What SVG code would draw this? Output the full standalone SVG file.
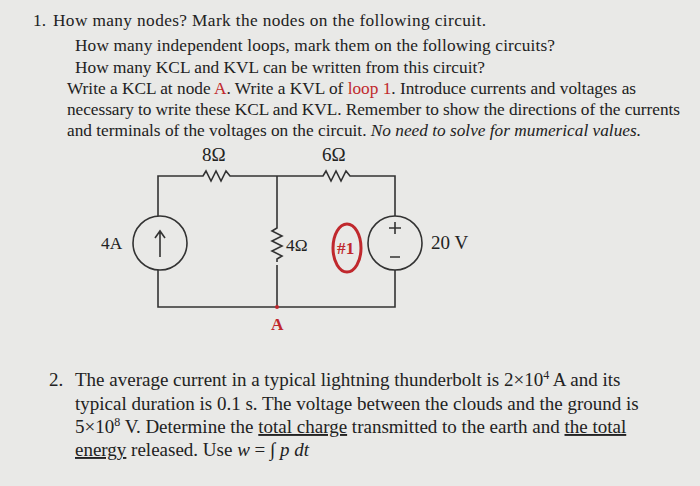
<svg xmlns="http://www.w3.org/2000/svg" width="700" height="486" viewBox="0 0 700 486">
<style>
text{font-family:"Liberation Serif",serif;font-size:17.3px;fill:#222}
.w{fill:none;stroke:#333;stroke-width:1.6}
.r{fill:#c0282d}
.L{font-size:19px}
</style>
<rect width="700" height="486" fill="#e9e9e7"/>
<text x="33" y="26">1.</text>
<text x="53" y="26" textLength="433">How many nodes? Mark the nodes on the following circuit.</text>
<text x="75" y="51" textLength="480">How many independent loops, mark them on the following circuits?</text>
<text x="75" y="73" textLength="410">How many KCL and KVL can be written from this circuit?</text>
<text x="67" y="94">Write a KCL at node <tspan class="r">A</tspan>. Write a KVL of <tspan class="r">loop 1</tspan>. Introduce currents and voltages as</text>
<text x="67" y="115" textLength="613">necessary to write these KCL and KVL. Remember to show the directions of the currents</text>
<text x="67" y="136">and terminals of the voltages on the circuit. <tspan font-style="italic">No need to solve for mumerical values.</tspan></text>
<g id="connectors">
<path class="w" d="M158,216 V176 H200 M233,176 H320 M353,176 H395 V216 M277,176 V225 M277,265 V307 M158,270 V307 H395 V270"/>
</g>
<g id="r8"><path class="w" d="M200,176 l3,0 3,-5 5,10 5,-10 5,10 5,-10 4,5 3,0"/><text x="202" y="161" class="L">8Ω</text></g>
<g id="r6"><path class="w" d="M320,176 l3,0 3,-5 5,10 5,-10 5,10 5,-10 4,5 3,0"/><text x="322" y="161" class="L">6Ω</text></g>
<g id="r4"><path class="w" d="M277,225 l0,3 -5,3 10,5 -10,5 10,5 -10,5 10,5 -5,3 0,3"/><text x="286" y="251">4Ω</text></g>
<g id="isrc"><circle class="w" cx="160" cy="243" r="27"/><path class="w" d="M160,257 V232 M155,238 L160,231 165,238"/><text x="101" y="249">4A</text></g>
<g id="vsrc"><circle class="w" cx="395" cy="243" r="27"/><path class="w" d="M389,228 h12 M395,222 v12 M390,257 h10"/><text x="431" y="249" class="L">20 V</text></g>
<g id="loop1"><ellipse cx="347" cy="248" rx="14" ry="24" fill="none" stroke="#c0282d" stroke-width="3"/><text x="337" y="254" font-size="13" font-weight="bold" class="r">#1</text></g>
<g id="nodeA"><circle cx="277" cy="307" r="2" fill="#c0282d"/><text x="271" y="330" class="r" font-size="15" font-weight="bold">A</text></g>
<text x="49" y="386" class="L">2.</text>
<text x="75" y="386" class="L">The average current in a typical lightning thunderbolt is 2×10<tspan dy="-7" font-size="12">4</tspan><tspan dy="7"> A and its</tspan></text>
<text x="75" y="410" class="L">typical duration is 0.1 s. The voltage between the clouds and the ground is</text>
<text x="75" y="433" class="L">5×10<tspan dy="-7" font-size="12">8</tspan><tspan dy="7"> V. Determine the </tspan><tspan text-decoration="underline">total charge</tspan> transmitted to the earth and <tspan text-decoration="underline">the total</tspan></text>
<text x="75" y="456" class="L"><tspan text-decoration="underline">energy</tspan> released. Use <tspan font-style="italic">w</tspan> = ∫ <tspan font-style="italic">p dt</tspan></text>
</svg>
